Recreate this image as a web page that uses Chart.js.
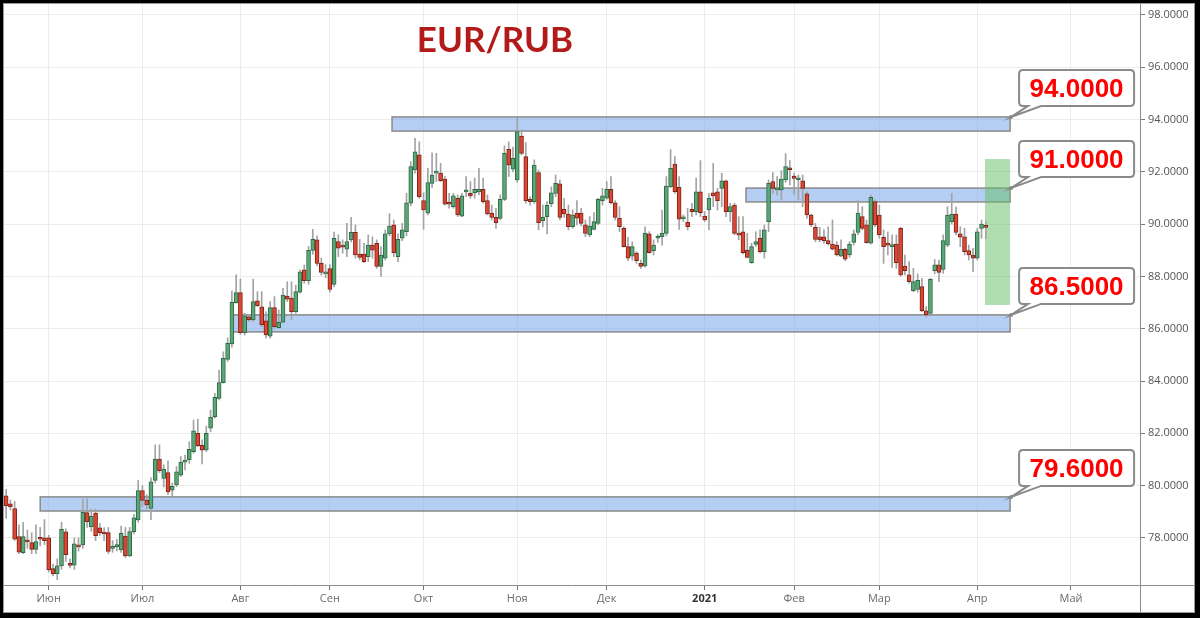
<!DOCTYPE html>
<html>
<head>
<meta charset="utf-8">
<script src="https://cdn.jsdelivr.net/npm/chart.js@4.4.1/dist/chart.umd.min.js"></script>
<style>
html,body{margin:0;padding:0;background:#000;}
canvas{display:block;}
</style>
</head>
<body>
<canvas id="c" width="1200" height="618"></canvas>
<script>
// ---- Data (EUR/RUB daily candles, trading-day index) ----
const opens = [79.61,79.30,79.12,78.05,77.44,77.90,77.82,77.56,78.00,78.00,
78.00,76.83,76.62,76.93,78.23,77.03,76.96,77.70,77.73,78.97,
78.43,78.95,78.39,78.20,78.20,77.60,77.67,77.54,78.07,77.31,
78.24,78.69,79.81,79.45,79.13,80.20,81.02,80.28,80.50,79.83,
80.03,80.40,80.90,80.98,81.30,82.00,81.55,81.37,82.20,82.64,
83.34,83.94,84.83,85.42,87.00,87.38,85.85,86.46,86.34,87.07,
86.84,86.30,85.72,86.81,86.04,86.25,87.25,87.17,86.65,87.40,
88.25,87.84,89.00,89.40,88.50,88.10,88.30,87.70,89.33,89.20,
89.04,89.40,89.69,88.86,88.86,88.76,89.20,89.27,88.38,88.70,
89.64,89.97,88.76,89.46,89.71,90.80,92.07,92.65,90.90,90.42,
91.56,91.95,91.95,91.72,90.82,90.67,90.99,90.31,91.23,91.18,
91.20,91.23,91.33,90.90,90.42,90.26,90.22,90.95,92.86,92.10,
91.69,93.37,92.58,90.95,90.86,91.97,90.13,90.29,90.77,91.18,
91.54,90.57,90.39,89.90,90.42,90.42,89.97,89.59,89.80,90.03,
90.90,90.99,91.33,90.82,90.23,89.84,89.14,88.78,88.89,88.50,
88.40,89.63,88.99,89.46,89.52,89.65,91.43,92.30,91.41,90.20,
90.07,90.57,90.48,91.24,90.31,90.54,91.20,91.24,91.37,91.66,
90.48,90.73,89.62,89.71,89.01,88.53,89.23,89.46,88.95,90.10,
91.63,91.31,91.31,91.69,92.12,91.84,91.70,91.66,91.16,90.35,
89.88,89.52,89.52,89.37,89.24,89.20,88.78,89.04,88.82,89.30,
89.68,90.29,89.97,89.27,90.86,90.35,89.50,89.24,89.14,89.24,
89.84,88.40,88.06,87.46,87.50,87.61,86.69,86.59,88.22,88.44,
88.27,89.20,90.10,90.39,89.63,89.52,88.99,88.82,88.70,89.84,
89.93];
const highs = [79.86,79.45,79.40,78.50,78.60,78.30,78.20,78.50,78.40,78.70,
78.10,77.00,77.20,78.60,78.35,77.20,78.00,78.00,79.50,79.50,
79.10,79.10,78.55,78.40,78.40,77.90,77.95,78.45,78.40,78.40,
78.90,80.20,80.00,79.65,80.30,81.56,81.56,80.80,80.95,80.10,
80.73,81.11,81.17,81.68,82.51,82.54,81.75,82.28,82.89,83.53,
84.42,85.12,85.65,87.44,88.06,87.90,86.60,86.55,87.90,87.42,
87.42,86.65,87.04,87.23,86.72,87.55,87.80,87.80,87.67,88.25,
88.44,89.15,89.80,89.55,88.70,88.45,88.45,89.70,89.59,89.40,
90.03,90.26,89.97,89.42,89.27,89.59,89.52,89.40,89.14,89.78,
90.40,90.16,89.63,90.03,91.18,92.39,93.28,93.15,91.20,92.14,
92.73,92.71,92.33,91.82,91.18,91.18,91.12,91.18,91.82,91.63,
91.76,92.14,91.76,91.12,90.73,90.61,91.12,93.00,93.15,92.95,
94.06,93.60,93.12,91.05,92.46,92.07,90.73,90.86,91.43,91.88,
91.69,90.99,90.73,90.54,90.90,90.61,90.16,90.29,90.44,90.99,
91.37,91.63,91.82,90.90,90.67,89.90,89.50,89.33,88.95,88.63,
89.90,89.71,89.40,89.60,90.54,91.82,92.85,92.58,91.82,90.35,
90.61,90.80,91.76,92.43,90.48,91.18,92.33,91.37,91.95,91.69,
90.80,90.80,90.29,90.29,89.65,89.27,89.71,89.78,89.97,91.69,
91.97,91.82,92.05,92.70,92.43,91.95,91.88,91.88,91.24,90.39,
90.03,89.88,89.78,89.90,90.16,89.33,89.40,89.08,89.33,89.78,
90.90,90.67,90.16,91.12,90.93,90.73,89.78,89.71,89.59,89.59,
89.88,88.82,88.57,88.31,88.10,87.93,86.85,87.93,88.65,88.63,
89.59,90.67,91.18,90.65,89.90,89.84,89.20,89.08,89.84,90.16,
90.10];
const lows = [78.75,79.07,77.90,77.40,77.40,77.60,77.40,77.40,77.70,77.75,
76.70,76.55,76.40,76.80,77.10,76.85,76.80,77.50,77.60,78.40,
78.25,77.90,78.10,77.90,77.40,77.45,77.50,77.45,77.25,77.28,
78.15,78.60,79.20,79.10,78.70,80.10,80.50,79.95,79.65,79.60,
79.96,80.34,80.60,80.85,81.24,81.49,80.83,81.30,82.06,82.58,
83.28,83.92,84.75,85.30,86.98,85.78,85.76,86.28,86.28,86.85,
86.08,85.64,85.64,86.02,86.02,86.21,87.04,86.34,86.59,87.36,
87.74,87.70,88.85,88.40,88.05,87.95,87.40,87.60,88.76,88.89,
88.76,89.32,88.70,88.63,88.53,88.57,88.70,88.31,88.00,88.63,
89.55,88.76,88.57,89.37,89.55,90.70,91.95,90.99,89.80,90.35,
91.40,91.63,91.63,90.73,90.61,90.61,90.29,90.29,91.05,90.99,
90.99,91.12,90.80,90.35,90.16,89.84,90.16,90.90,91.82,92.00,
91.60,92.65,90.80,90.73,90.80,89.78,89.90,89.63,90.67,91.05,
90.16,90.26,89.78,89.84,89.97,89.93,89.52,89.52,89.78,89.97,
90.73,90.95,90.77,90.16,89.71,89.12,88.60,88.63,88.50,88.31,
88.35,88.89,88.82,89.30,89.20,89.55,91.40,91.18,89.80,90.10,
89.78,90.29,90.35,90.29,90.10,89.78,90.67,90.54,90.67,90.29,
90.10,89.59,89.40,88.86,88.70,88.50,89.14,88.89,88.70,89.71,
91.18,91.12,90.93,91.60,91.50,91.12,90.93,90.67,90.22,89.90,
89.33,89.33,89.27,89.20,89.01,88.78,88.76,88.60,88.73,89.20,
89.60,89.78,89.27,89.24,89.90,89.46,88.50,88.82,88.35,88.31,
88.00,88.06,87.74,87.42,87.40,86.65,86.45,86.55,88.10,87.80,
88.12,89.14,90.00,89.59,89.14,88.82,88.63,88.18,88.63,89.46,
89.45];
const closes = [79.22,79.20,77.95,77.46,78.05,77.85,77.56,77.86,77.95,77.90,
76.78,76.62,76.93,78.33,77.36,76.95,77.77,77.66,78.98,78.62,
78.84,78.09,78.20,78.15,77.48,77.65,77.73,78.18,77.31,78.24,
78.77,79.81,79.43,79.26,80.15,81.02,80.57,80.63,79.76,79.97,
80.53,80.90,80.98,81.39,82.10,81.52,81.36,82.00,82.62,83.38,
83.94,84.87,85.44,87.01,87.38,85.85,86.49,86.34,87.04,86.88,
86.15,85.76,86.81,86.08,86.25,87.29,87.13,86.65,87.42,88.18,
87.84,89.00,89.42,88.50,88.15,88.15,87.50,89.46,89.08,89.12,
89.33,89.69,88.82,88.73,88.57,89.20,89.01,88.38,88.82,89.63,
89.93,88.91,89.42,89.78,90.82,92.20,92.77,91.05,90.54,91.59,
91.88,92.00,91.66,90.76,90.76,91.08,90.35,91.08,91.31,91.08,
91.33,91.33,90.86,90.39,90.26,90.06,90.95,92.71,92.26,92.52,
93.54,92.71,90.90,90.86,92.26,90.06,90.26,90.72,91.20,91.56,
90.26,90.39,89.90,90.35,90.23,90.03,89.65,89.93,90.10,90.95,
91.08,91.33,90.82,90.26,89.90,89.14,88.70,89.14,88.60,88.38,
89.65,88.91,89.20,89.50,89.65,91.46,92.14,91.24,90.19,90.23,
89.90,90.48,91.24,90.44,90.16,90.99,91.08,90.90,91.66,90.48,
90.67,89.65,89.58,88.91,88.73,89.14,89.33,88.95,89.78,91.56,
91.37,91.37,91.72,92.20,92.08,91.75,91.74,91.37,90.35,89.97,
89.42,89.40,89.37,89.24,89.04,88.82,89.04,88.66,89.24,89.63,
90.42,89.84,89.29,91.03,89.97,89.59,89.14,89.20,89.20,88.53,
88.06,88.22,87.80,87.80,87.85,86.69,86.53,87.89,88.44,88.15,
89.37,90.35,90.39,89.68,89.50,88.95,88.82,88.70,89.71,90.00,
89.88];

// x-axis: trading-day index of the first session of each month
const monthTickIdx = [10, 32, 55, 76, 98, 120, 141, 164, 185, 205, 228, 250];
const monthLabels  = ['Июн','Июл','Авг','Сен','Окт','Ноя','Дек','2021','Фев','Мар','Апр','Май'];
const yTicks = [78, 80, 82, 84, 86, 88, 90, 92, 94, 96, 98];

// support / resistance zones
const zoneLabels = ['94.0000', '91.0000', '86.5000', '79.6000'];
const zoneHigh   = [94.10, 91.38, 86.53, 79.57];
const zoneLow    = [93.56, 90.85, 85.88, 79.03];
const zoneStart  = [90.6, 173.7, 53.3, 8.0];
const zoneEnd    = 235.7;
// green target range
const targetRange = [229.8, 235.7, 86.91, 92.49];
const chartTitle = 'EUR/RUB';

const idx = opens.map((_, i) => i);
const isUp = i => closes[i] >= opens[i];

const deco = {
  id: 'deco',
  beforeDraw(chart) {
    const c = chart.ctx;
    c.save();
    c.fillStyle = '#000';
    c.fillRect(0, 0, 1200, 618);
    c.fillStyle = '#fff';
    c.fillRect(4, 4, 1190, 608);
    c.restore();
  },
  beforeDatasetsDraw(chart) {
    const c = chart.ctx, xs = chart.scales.x, ys = chart.scales.y;
    c.save();
    for (let k = 0; k < zoneHigh.length; k++) {
      const x0 = xs.getPixelForValue(zoneStart[k]), x1 = xs.getPixelForValue(zoneEnd);
      const y0 = ys.getPixelForValue(zoneHigh[k]), y1 = ys.getPixelForValue(zoneLow[k]);
      c.fillStyle = 'rgba(120,165,235,0.55)';
      c.fillRect(x0, y0, x1 - x0, y1 - y0);
      c.strokeStyle = '#8a8a8a';
      c.lineWidth = 1.5;
      c.strokeRect(x0, y0, x1 - x0, y1 - y0);
    }
    const gx0 = xs.getPixelForValue(targetRange[0]), gx1 = xs.getPixelForValue(targetRange[1]);
    const gy0 = ys.getPixelForValue(targetRange[3]), gy1 = ys.getPixelForValue(targetRange[2]);
    c.fillStyle = 'rgba(100,190,100,0.5)';
    c.fillRect(gx0, gy0, gx1 - gx0, gy1 - gy0);
    c.restore();
  },
  afterDatasetsDraw(chart) {
    const c = chart.ctx, xs = chart.scales.x, ys = chart.scales.y;
    c.save();
    // callouts
    for (let k = 0; k < zoneHigh.length; k++) {
      const px = xs.getPixelForValue(zoneEnd), py = ys.getPixelForValue(zoneHigh[k]);
      const left = px + 9, right = px + 124, bottom = py - 11, top = bottom - 36, r = 4;
      c.beginPath();
      c.moveTo(left + r, top);
      c.lineTo(right - r, top);
      c.quadraticCurveTo(right, top, right, top + r);
      c.lineTo(right, bottom - r);
      c.quadraticCurveTo(right, bottom, right - r, bottom);
      c.lineTo(left + 22, bottom);
      c.lineTo(px + 1, py);
      c.lineTo(left + 9, bottom);
      c.lineTo(left + r, bottom);
      c.quadraticCurveTo(left, bottom, left, bottom - r);
      c.lineTo(left, top + r);
      c.quadraticCurveTo(left, top, left + r, top);
      c.closePath();
      c.fillStyle = '#fff';
      c.fill();
      c.strokeStyle = '#8a8a8a';
      c.lineWidth = 2;
      c.stroke();
      c.beginPath();
      c.arc(px + 1, py, 2, 0, Math.PI * 2);
      c.fillStyle = '#888';
      c.fill();
      c.fillStyle = '#ff0000';
      c.font = 'bold 26px "Liberation Sans", Arial, sans-serif';
      c.textAlign = 'center';
      c.textBaseline = 'alphabetic';
      c.fillText(zoneLabels[k], (left + right) / 2, top + 27);
    }
    // title
    c.fillStyle = '#b31b1b';
    c.font = 'bold 35px Lato, "Open Sans", sans-serif';
    c.textAlign = 'center';
    c.textBaseline = 'alphabetic';
    c.fillText(chartTitle, 495, 52);
    c.restore();
  },
  afterDraw(chart) {
    const c = chart.ctx, a = chart.chartArea;
    c.save();
    c.strokeStyle = '#8c8c8c';
    c.lineWidth = 1;
    c.beginPath();
    c.moveTo(a.right, a.bottom + 0.5);
    c.lineTo(1194, a.bottom + 0.5);
    c.moveTo(a.right + 0.5, a.bottom);
    c.lineTo(a.right + 0.5, 612);
    c.stroke();
    c.strokeStyle = '#9a9a9a';
    c.strokeRect(3.5, 3.5, 1191, 609);
    c.restore();
  }
};

Chart.defaults.font.family = '"Open Sans", sans-serif';

new Chart(document.getElementById('c'), {
  type: 'bar',
  data: {
    datasets: [
      {
        label: 'wick',
        data: idx.map(i => ({ x: i, y: [lows[i], highs[i]] })),
        backgroundColor: '#a3a3a3',
        borderWidth: 0,
        barThickness: 1,
        grouped: false,
        order: 2
      },
      {
        label: 'body',
        data: idx.map(i => ({ x: i, y: [opens[i], closes[i]] })),
        backgroundColor: c => isUp(c.dataIndex) ? '#5ba679' : '#dd4632',
        borderColor: c => isUp(c.dataIndex) ? '#2e6a44' : '#7d2419',
        borderWidth: 1,
        borderSkipped: false,
        barThickness: 4,
        minBarLength: 2,
        grouped: false,
        order: 1
      }
    ]
  },
  options: {
    responsive: false,
    animation: false,
    layout: { padding: { left: 4, top: 4, right: 5, bottom: 6 } },
    plugins: { legend: { display: false }, tooltip: { enabled: false }, title: { display: false } },
    scales: {
      x: {
        type: 'linear',
        position: 'bottom',
        min: -0.5,
        max: 266.2,
        offset: false,
        afterBuildTicks: s => { s.ticks = monthTickIdx.map(v => ({ value: v })); },
        afterFit: s => { s.height = 27; s.paddingLeft = 0; s.paddingRight = 0; },
        ticks: {
          autoSkip: false,
          maxRotation: 0,
          padding: 2,
          color: c => monthLabels[c.index] === '2021' ? '#333' : '#6a6a6a',
          font: c => ({ family: '"Open Sans", sans-serif', size: 11, weight: monthLabels[c.index] === '2021' ? 'bold' : 'normal' }),
          callback: (v, i) => monthLabels[i]
        },
        grid: { color: '#ececec', offset: false, tickLength: 5, tickColor: '#777' },
        border: { color: '#8c8c8c' }
      },
      y: {
        type: 'linear',
        position: 'right',
        min: 76.2,
        max: 98.42,
        afterBuildTicks: s => { s.ticks = yTicks.map(v => ({ value: v })); },
        afterFit: s => { s.width = 55; s.paddingTop = 0; s.paddingBottom = 0; },
        ticks: {
          padding: 3,
          color: '#555',
          font: { family: '"Open Sans", sans-serif', size: 11 },
          callback: v => Number(v).toFixed(4)
        },
        grid: { color: '#ececec', tickLength: 5, tickColor: '#777' },
        border: { color: '#8c8c8c' }
      }
    }
  },
  plugins: [deco]
});
</script>
</body>
</html>
